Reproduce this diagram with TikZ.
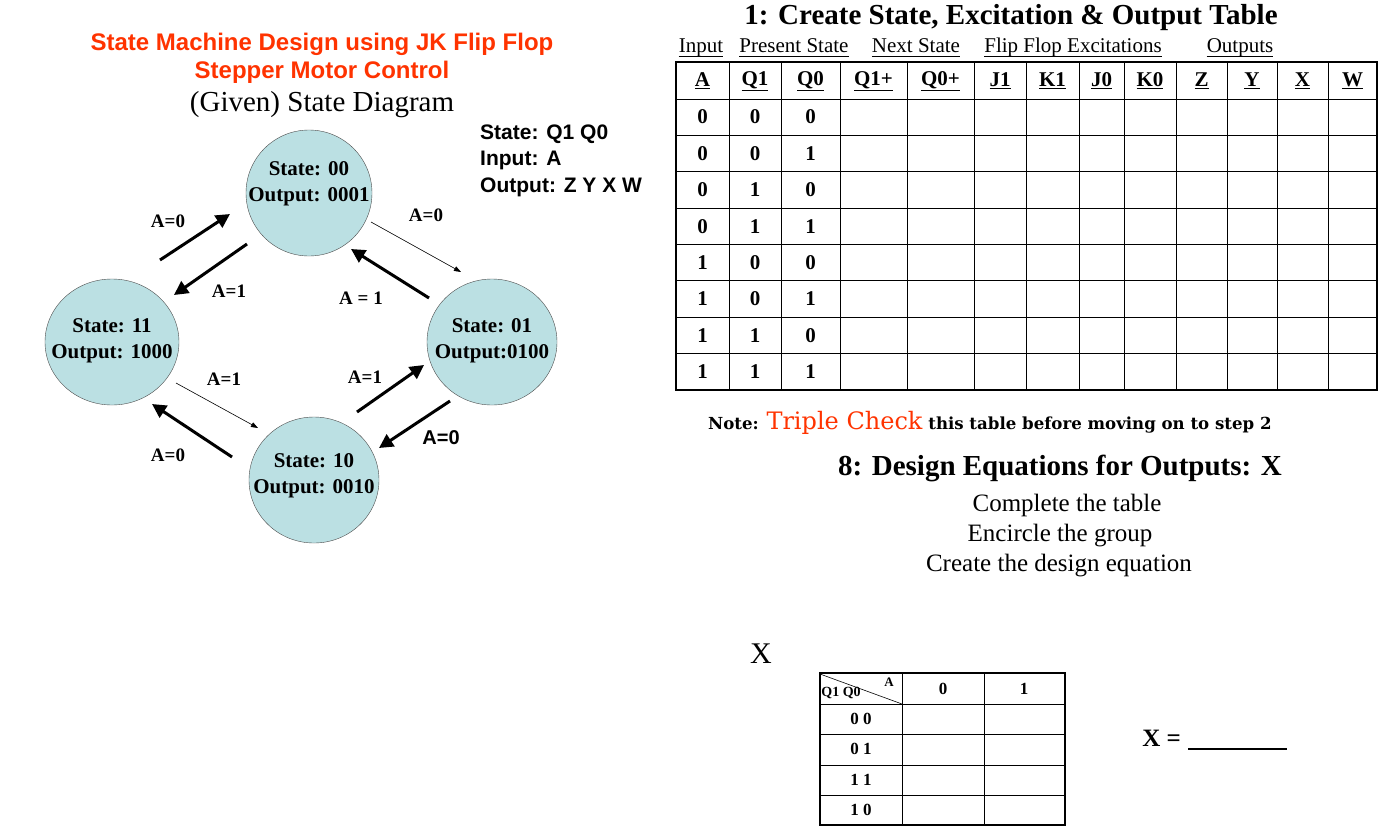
\documentclass[tikz,border=0pt]{standalone}
\usepackage{fontspec}
\setmainfont{Liberation Serif}
\newfontfamily\arialfont{Liberation Sans}
\newfontfamily\notefont{DejaVu Serif}
\usetikzlibrary{shapes.geometric,arrows.meta}

\definecolor{statefill}{HTML}{BBE0E3}
\definecolor{titlered}{HTML}{FF3300}

\tikzstyle{redtitle} = [text=titlered, font=\arialfont\bfseries\fontsize{24}{28}\selectfont, inner sep=0pt]
\tikzstyle{legend} = [anchor=west, font=\arialfont\bfseries\fontsize{21}{24}\selectfont, inner sep=0pt]
\tikzstyle{state} = [ellipse, draw=black!70, fill=statefill, minimum width=126pt, minimum height=126pt, inner sep=0pt]
\tikzstyle{statelbl} = [align=center, font=\bfseries\fontsize{21}{26}\selectfont, inner sep=0pt]
\tikzstyle{edgelbl} = [font=\bfseries\fontsize{19}{22}\selectfont, inner sep=0pt]
\tikzstyle{bold arrow} = [line width=3pt, -{Triangle[length=14pt,width=14pt]}]
\tikzstyle{thin arrow} = [line width=0.6pt, -{Triangle[length=7pt,width=5pt]}]
\tikzstyle{grouphead} = [anchor=base, font=\fontsize{21}{24}\selectfont, inner sep=0pt]
\tikzstyle{cell} = [font=\bfseries\fontsize{21}{24}\selectfont, inner sep=0pt]
\tikzstyle{kcell} = [font=\bfseries\fontsize{17}{19}\selectfont, inner sep=0pt]
\tikzstyle{body} = [font=\fontsize{25}{28}\selectfont, inner sep=0pt]

\begin{document}
\begin{tikzpicture}[x=1pt,y=-1pt]
\useasboundingbox (0,0) rectangle (1384,836);

% left side: given state diagram
\node[redtitle] (title1) at (322,44) {State Machine Design using JK Flip Flop};
\node[redtitle] (title2) at (322,72) {Stepper Motor Control};
\node[font=\fontsize{29}{32}\selectfont, inner sep=0pt] (given) at (322,105) {(Given) State Diagram};

\node[legend] (leg1) at (480,134) {State: Q1 Q0};
\node[legend] (leg2) at (480,160) {Input: A};
\node[legend] (leg3) at (480,187) {Output: Z Y X W};

\node[state] (s00) at (309,193) {};
\node[state, minimum width=134pt] (s11) at (112,342) {};
\node[state, minimum width=130pt] (s01) at (492,342) {};
\node[state, minimum width=130pt] (s10) at (314,480) {};
\node[statelbl] (t00) at ([yshift=9pt]s00.center) {State: 00\\Output: 0001};
\node[statelbl] (t11) at ([yshift=1pt]s11.center) {State: 11\\Output: 1000};
\node[statelbl] (t01) at ([yshift=1pt]s01.center) {State: 01\\Output:0100};
\node[statelbl] (t10) at ([yshift=4pt]s10.center) {State: 10\\Output: 0010};

% arrow ends
\coordinate (p1) at (160,260); \coordinate (q1) at (230,214);
\coordinate (p2) at (247,244); \coordinate (q2) at (174,295);
\coordinate (p3) at (371,222); \coordinate (q3) at (461,272);
\coordinate (p4) at (429,298); \coordinate (q4) at (351,249);
\coordinate (p5) at (176,383); \coordinate (q5) at (258,428);
\coordinate (p6) at (232,457); \coordinate (q6) at (152,404);
\coordinate (p7) at (357,412); \coordinate (q7) at (424,365);
\coordinate (p8) at (450,401); \coordinate (q8) at (379,448);

\draw[bold arrow] (p1) -- (q1);
\draw[bold arrow] (p2) -- (q2);
\draw[thin arrow] (p3) -- (q3);
\draw[bold arrow] (p4) -- (q4);
\draw[thin arrow] (p5) -- (q5);
\draw[bold arrow] (p6) -- (q6);
\draw[bold arrow] (p7) -- (q7);
\draw[bold arrow] (p8) -- (q8);

\node[edgelbl] (l1) at (168,221) {A=0};
\node[edgelbl] (l2) at (229,291) {A=1};
\node[edgelbl] (l3) at (426,215) {A=0};
\node[edgelbl] (l4) at (361,298) {A = 1};
\node[edgelbl] (l5) at (224,379) {A=1};
\node[edgelbl] (l6) at (168,455) {A=0};
\node[edgelbl] (l7) at (365,377) {A=1};
\node[font=\arialfont\bfseries\fontsize{20}{22}\selectfont, inner sep=0pt] (l8) at (441,438) {A=0};

% right side: state, excitation and output table
\node[font=\bfseries\fontsize{29}{32}\selectfont, inner sep=0pt] (tabtitle) at (1011,18) {1: Create State, Excitation \& Output Table};
\node[grouphead] (g1) at (701,52) {Input};
\node[grouphead] (g2) at (794,52) {Present State};
\node[grouphead] (g3) at (916,52) {Next State};
\node[grouphead] (g4) at (1073,52) {Flip Flop Excitations};
\node[grouphead] (g5) at (1240,52) {Outputs};
\foreach \g in {g1,g2,g3,g4,g5}
  \draw[line width=1.2pt] (\g.west |- 0,56.5) -- (\g.east |- 0,56.5);

\foreach \x in {729,781,840,907,974,1026,1079,1124,1176,1227,1277,1328}
  \draw[line width=1pt] (\x,62) -- (\x,390);
\foreach \r in {0,...,7}
  \draw[line width=1pt] (676,{99+36.375*\r}) -- (1377,{99+36.375*\r});
\draw[line width=2.5pt] (676,62) rectangle (1377,390);

\foreach \cx/\lbl [count=\i] in {702.5/A, 755/Q1, 810.5/Q0, 873.5/Q1+, 940.5/Q0+, 1000/J1,
    1052.5/K1, 1101.5/J0, 1150/K0, 1201.5/Z, 1252/Y, 1302.5/X, 1352.5/W}
  \node[cell] (h\i) at (\cx,81) {\underline{\lbl}};

\foreach \a/\b/\c [count=\r from 0] in {0/0/0,0/0/1,0/1/0,0/1/1,1/0/0,1/0/1,1/1/0,1/1/1} {
  \node[cell] (a\r) at (702.5,{117+36.375*\r}) {\a};
  \node[cell] (b\r) at (755,{117+36.375*\r}) {\b};
  \node[cell] (c\r) at (810.5,{117+36.375*\r}) {\c};
}

\node[inner sep=0pt, anchor=west] (note) at (708,423)
  {\notefont\bfseries\fontsize{16.6}{20}\selectfont Note: \textcolor{titlered}{\mdseries\fontsize{24}{28}\selectfont Triple Check} this table before moving on to step 2};

% design equations for X
\node[font=\bfseries\fontsize{29}{32}\selectfont, inner sep=0pt] (eqtitle) at (1060,468) {8: Design Equations for Outputs: X};
\node[body] (step1) at (1067,505) {Complete the table};
\node[body] (step2) at (1060,536) {Encircle the group};
\node[body] (step3) at (1059,566) {Create the design equation};

\node[font=\fontsize{30}{32}\selectfont, inner sep=0pt] (kname) at (761,654) {X};

\foreach \y in {704,734,765,795}
  \draw[line width=1pt] (820,\y) -- (1065,\y);
\foreach \x in {902,984}
  \draw[line width=1pt] (\x,673) -- (\x,825);
\draw[line width=0.6pt] (820,674) -- (902,704);
\draw[line width=2pt] (820,673) rectangle (1065,825);

\node[font=\bfseries\fontsize{13}{14}\selectfont, inner sep=0pt] (kA) at (889,682) {A};
\node[font=\bfseries\fontsize{14}{16}\selectfont, inner sep=0pt] (kQ) at (841,693) {Q1 Q0};
\node[kcell] (k0) at (943,689) {0};
\node[kcell] (k1) at (1024,689) {1};
\foreach \lbl [count=\i from 0] in {0 0,0 1,1 1,1 0}
  \node[kcell] (kr\i) at (861,{719+30.25*\i}) {\lbl};

\node[font=\bfseries\fontsize{25}{28}\selectfont, inner sep=0pt, anchor=east] (xeq) at (1181,738) {X =};
\coordinate (blankL) at (1188,749);
\coordinate (blankR) at (1287,749);
\draw[line width=1.2pt] (blankL) -- (blankR);

\end{tikzpicture}
\end{document}
